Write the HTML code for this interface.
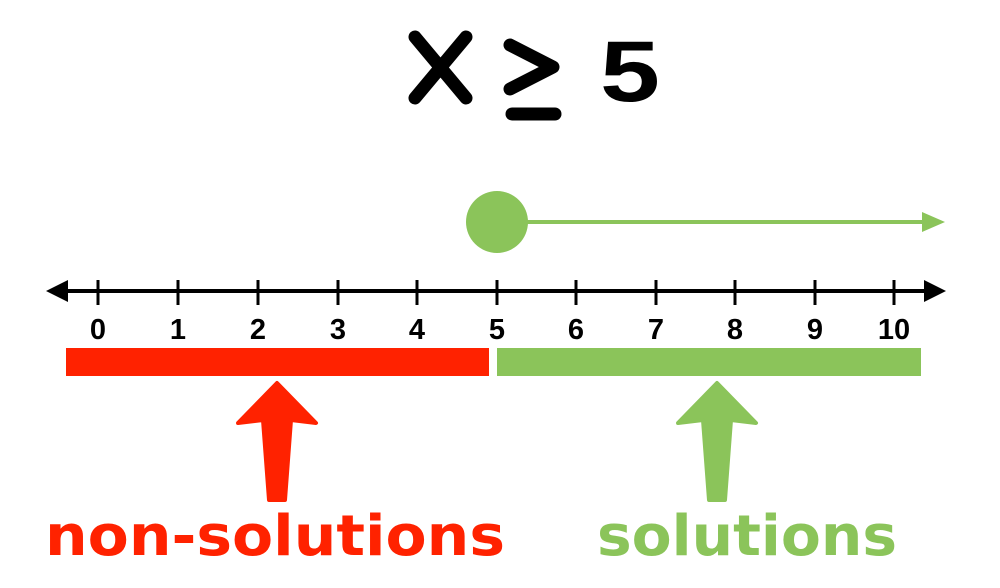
<!DOCTYPE html>
<html><head><style>body{margin:0;background:#fff}svg{display:block}</style></head><body>
<svg width="1000" height="588" viewBox="0 0 1000 588" xmlns="http://www.w3.org/2000/svg">
<g stroke="#000" stroke-width="13" stroke-linecap="round" fill="none">
<line x1="415" y1="37" x2="466" y2="98"/><line x1="466" y1="37" x2="415" y2="98"/>
<polyline points="510,45 553,67 510,89" stroke-linejoin="round"/>
<line x1="512" y1="114" x2="555" y2="114"/>
</g>
<text x="630" y="101" font-family="Liberation Sans, sans-serif" font-weight="bold" font-size="86" text-anchor="middle" textLength="60" lengthAdjust="spacingAndGlyphs">5</text>
<circle cx="497" cy="222" r="31" fill="#8bc45a"/>
<line x1="497" y1="222" x2="930" y2="222" stroke="#8bc45a" stroke-width="4"/>
<polygon points="945,222 922,212 922,232" fill="#8bc45a"/>
<line x1="60" y1="291" x2="932" y2="291" stroke="#000" stroke-width="4"/>
<polygon points="46,291 68,280 68,302" fill="#000"/>
<polygon points="946,291 924,280 924,302" fill="#000"/>
<g stroke="#000" stroke-width="3">
<line x1="98" y1="280" x2="98" y2="305"/><line x1="178" y1="280" x2="178" y2="305"/><line x1="258" y1="280" x2="258" y2="305"/><line x1="338" y1="280" x2="338" y2="305"/><line x1="417" y1="280" x2="417" y2="305"/><line x1="497" y1="280" x2="497" y2="305"/><line x1="576" y1="280" x2="576" y2="305"/><line x1="656" y1="280" x2="656" y2="305"/><line x1="735" y1="280" x2="735" y2="305"/><line x1="815" y1="280" x2="815" y2="305"/><line x1="894" y1="280" x2="894" y2="305"/>
</g>
<g font-family="Liberation Sans Narrow, Liberation Sans, sans-serif" font-weight="bold" font-size="29" text-anchor="middle">
<text x="98" y="339">0</text><text x="178" y="339">1</text><text x="258" y="339">2</text><text x="338" y="339">3</text><text x="417" y="339">4</text><text x="497" y="339">5</text><text x="576" y="339">6</text><text x="656" y="339">7</text><text x="735" y="339">8</text><text x="815" y="339">9</text><text x="894" y="339">10</text>
</g>
<rect x="66" y="348" width="423" height="28" fill="#ff2200"/>
<rect x="497" y="348" width="424" height="28" fill="#8bc45a"/>
<polygon points="277,383 316,423 291,420 285,500 269,500 263,420 238,423" fill="#ff2200" stroke="#ff2200" stroke-width="4" stroke-linejoin="round"/>
<polygon points="717,383 756,423 731,420 725,500 709,500 703,420 678,423" fill="#8bc45a" stroke="#8bc45a" stroke-width="4" stroke-linejoin="round"/>
<text x="275" y="555" font-family="DejaVu Sans, sans-serif" font-weight="bold" font-size="56" fill="#ff2200" text-anchor="middle" textLength="460" lengthAdjust="spacingAndGlyphs">non-solutions</text>
<text x="747" y="555" font-family="DejaVu Sans, sans-serif" font-weight="bold" font-size="56" fill="#8bc45a" text-anchor="middle" textLength="300" lengthAdjust="spacingAndGlyphs">solutions</text>
</svg>
</body></html>
